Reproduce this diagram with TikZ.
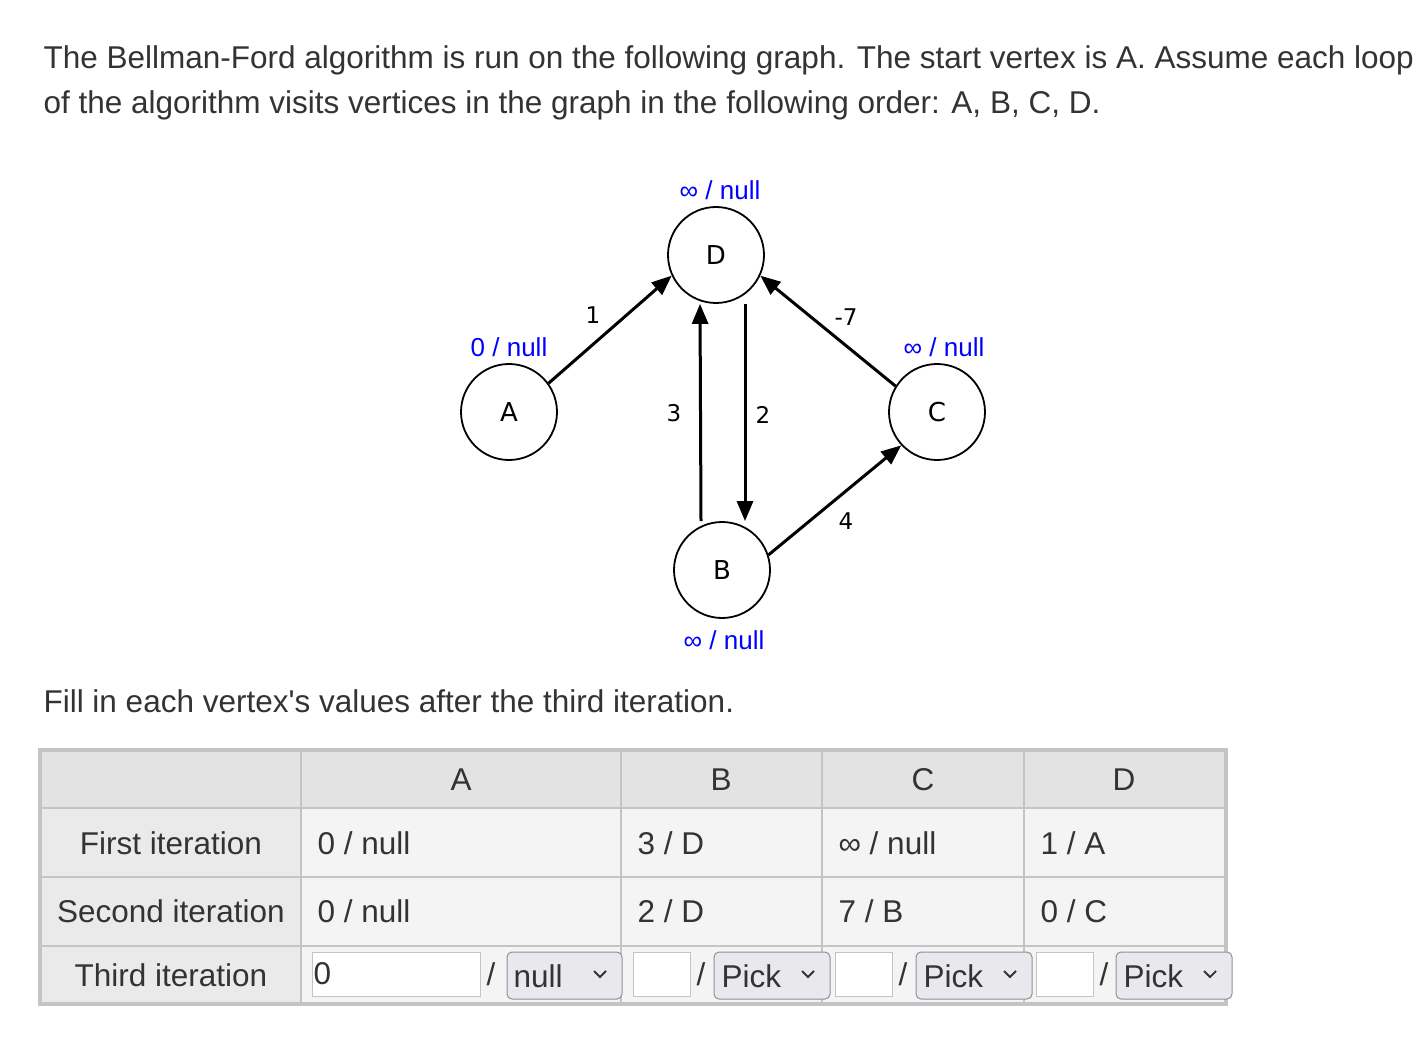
\documentclass[tikz,border=0pt]{standalone}
\usepackage{fontspec}
\setmainfont{Liberation Sans}[Ligatures=NoCommon]
\newfontfamily\graphfont{DejaVu Sans}
\usetikzlibrary{arrows.meta}
\definecolor{txt}{HTML}{333333}
\definecolor{hdr}{HTML}{E3E3E3}
\definecolor{cellbg}{HTML}{F4F4F4}
\definecolor{bord}{HTML}{C4C4C4}
\definecolor{selbg}{HTML}{E9E9ED}
\definecolor{selbd}{HTML}{8F8F9D}
\tikzset{
  vert/.style={circle,draw,line width=1.8pt,minimum size=96pt,inner sep=0pt,font=\graphfont\fontsize{26}{26}\selectfont},
  edge/.style={line width=3pt,-{Triangle[length=20pt,width=16pt]}},
  elab/.style={font=\graphfont\fontsize{23}{23}\selectfont},
  blab/.style={text=blue,font=\fontsize{26}{26}\selectfont},
  para/.style={text=txt,anchor=west,font=\fontsize{31.5}{31.5}\selectfont},
  ctext/.style={text=txt,font=\fontsize{31.5}{31.5}\selectfont},
  inbox/.style={draw=bord,fill=white,line width=1pt},
  selbox/.style={draw=selbd,fill=selbg,line width=1pt,rounded corners=5pt},
  chev/.style={line width=1.8pt,txt},
}
\begin{document}
\begin{tikzpicture}[x=1pt,y=-1pt]
\useasboundingbox[fill=white] (0,0) rectangle (1416,1064);
\node[para] (t1) at (40,60) {The Bellman-Ford algorithm is run on the following graph. The start vertex is A. Assume each loop};
\node[para] (t2) at (40,105) {of the algorithm visits vertices in the graph in the following order: A, B, C, D.};
% graph
\node[vert] (A) at (509,412) {A};
\node[vert] (D) at (716,255) {D};
\node[vert] (C) at (937,412) {C};
\node[vert] (B) at (722,570) {B};
\draw[edge] (A.36) -- (D.205);
\draw[edge] ([xshift=-21pt]B.north) -- ([xshift=-16pt]D.south);
\draw[edge] ([xshift=29pt]D.south) -- ([xshift=23pt]B.north);
\draw[edge] (C.148) -- (D.-25);
\draw[edge] (B.18) -- (C.223);
\node[elab] (l1) at (593,315) {1};
\node[elab] (l3) at (674,413) {3};
\node[elab] (l2) at (763,415) {2};
\node[elab] (l7) at (846,317) {-7};
\node[elab] (l4) at (846,521) {4};
\node[blab] (bD) at (720,190) {∞ / null};
\node[blab] (bA) at (509,347) {0 / null};
\node[blab] (bC) at (944,347) {∞ / null};
\node[blab] (bB) at (724,640) {∞ / null};
\node[para] (t3) at (40,701) {Fill in each vertex\textquotesingle s values after the third iteration.};
% table
\fill[hdr] (40,750) rectangle (1226,808);
\fill[hdr!60!cellbg] (40,808) rectangle (301,1004);
\fill[cellbg] (301,808) rectangle (1226,1004);
\draw[bord,line width=1.2pt] (40,808) -- (1226,808) (40,877) -- (1226,877) (40,946) -- (1226,946);
\foreach \x in {301,621,822,1024} \draw[bord,line width=1.2pt] (\x,750) -- (\x,1004);
\draw[bord,line width=4pt] (40,750) rectangle (1226,1004);
\node[ctext] (hA) at (461,780) {A};
\node[ctext] (hB) at (721,780) {B};
\node[ctext] (hC) at (923,780) {C};
\node[ctext] (hD) at (1124,780) {D};
\node[ctext] (r1) at (171,843) {First iteration};
\node[ctext] (r2) at (171,911) {Second iteration};
\node[ctext] (r3) at (171,975) {Third iteration};
\node[para] (a1) at (314,843) {0 / null};
\node[para] (b1) at (634,843) {3 / D};
\node[para] (c1) at (835,843) {∞ / null};
\node[para] (d1) at (1037,843) {1 / A};
\node[para] (a2) at (314,911) {0 / null};
\node[para] (b2) at (634,911) {2 / D};
\node[para] (c2) at (835,911) {7 / B};
\node[para] (d2) at (1037,911) {0 / C};
% widgets
\draw[inbox] (312,952) rectangle (480,996);
\node[para] (a3) at (310,974) {0};
\node[ctext] (s1) at (491,974) {/};
\draw[selbox] (507,952) rectangle (622,999);
\node[para] (n1) at (510,976) {null};
\draw[chev] (594,971) -- (600,977) -- (606,971);
\foreach \ix/\sx in {633/714,835/916,1036/1116}{
  \draw[inbox] (\ix,952) rectangle (\ix+57,996);
  \node[ctext] at (\ix+68,974) {/};
  \draw[selbox] (\sx,952) rectangle (\sx+116,999);
  \node[para] at (\sx+4,976) {Pick};
  \draw[chev] (\sx+88,971) -- (\sx+94,977) -- (\sx+100,971);
}
\end{tikzpicture}
\end{document}
